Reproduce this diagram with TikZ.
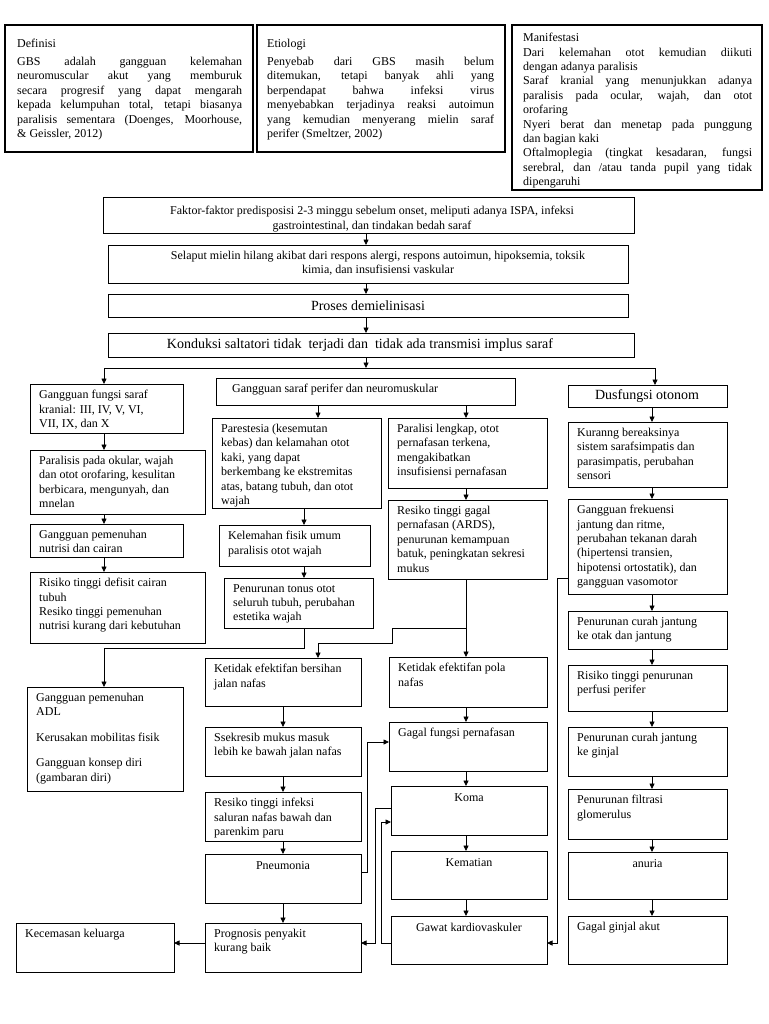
\documentclass[tikz,border=0pt]{standalone}
\usepackage{fontspec}
\setmainfont{Liberation Serif}
\usetikzlibrary{arrows.meta,calc}
\tikzset{
 boxs/.style={draw, line width=0.8pt, anchor=north west, inner sep=0pt, outer sep=0pt},
 frame/.style={draw, line width=2.6pt, anchor=north west, inner sep=0pt, outer sep=0pt},
 txt/.style={anchor=north west, inner sep=0pt, align=left, font=\fontsize{12}{14.4}\selectfont},
 jtxt/.style={anchor=north west, inner sep=0pt, align=justify, font=\fontsize{12}{14.4}\selectfont},
 ctxt/.style={anchor=north, inner sep=0pt, align=center, font=\fontsize{12}{14.4}\selectfont},
 bigtxt/.style={anchor=center, inner sep=0pt, align=center, font=\fontsize{14}{16}\selectfont},
 arr/.style={line width=0.8pt, -{Triangle[length=5.5pt,width=5pt]}},
 ln/.style={line width=0.8pt},
}
\newcommand{\bx}[5]{%
 \pgfmathsetmacro\bw{#4-#2}\pgfmathsetmacro\bh{#5-#3}%
 \node[boxs, minimum width=\bw pt, minimum height=\bh pt] (#1) at (#2,#3) {};}
\newcommand{\tl}[2]{\node[txt] (#1t) at ([xshift=9pt,yshift=-6pt]#1.north west) {#2};}
\newcommand{\tc}[2]{\node[ctxt] (#1t) at ([yshift=-7pt]#1.north) {#2};}
\begin{document}
\begin{tikzpicture}[x=1pt,y=-1pt]
\useasboundingbox (0,0) rectangle (768,1024);
\fill[white] (0,0) rectangle (768,1024);

% top information boxes
\node[frame, minimum width=248pt, minimum height=127pt] (Def) at (5,25) {};
\node[jtxt, text width=225pt] (Deft) at ([xshift=12pt,yshift=-14pt]Def.north west)
 {Definisi\\[3.5pt]GBS adalah gangguan kelemahan\linebreak neuromuscular akut yang memburuk\linebreak secara progresif yang dapat mengarah\linebreak kepada kelumpuhan total, tetapi biasanya\linebreak paralisis sementara (Doenges, Moorhouse,\linebreak \& Geissler, 2012)};
\node[frame, minimum width=248pt, minimum height=127pt] (Eti) at (257,25) {};
\node[jtxt, text width=227pt] (Etit) at ([xshift=10pt,yshift=-14pt]Eti.north west)
 {Etiologi\\[3.5pt]Penyebab dari GBS masih belum\linebreak ditemukan, tetapi banyak ahli yang\linebreak berpendapat bahwa infeksi virus\linebreak menyebabkan terjadinya reaksi autoimun\linebreak yang kemudian menyerang mielin saraf\linebreak perifer (Smeltzer, 2002)};
\node[frame, minimum width=250pt, minimum height=165pt] (Man) at (512,25) {};
\node[jtxt, text width=229pt] (Mant) at ([xshift=11pt,yshift=-8pt]Man.north west)
 {Manifestasi\\Dari kelemahan otot kemudian diikuti\linebreak dengan adanya paralisis\\Saraf kranial yang menunjukkan adanya\linebreak paralisis pada ocular, wajah, dan otot\linebreak orofaring\\Nyeri berat dan menetap pada punggung\linebreak dan bagian kaki\\Oftalmoplegia (tingkat kesadaran, fungsi\linebreak serebral, dan /atau tanda pupil yang tidak\linebreak dipengaruhi};

% main flow
\bx{F1}{103}{197}{634}{233}
\node[ctxt, font=\fontsize{12}{15}\selectfont] (F1t) at (372,205.5) {Faktor-faktor predisposisi 2-3 minggu sebelum onset, meliputi adanya ISPA, infeksi\\gastrointestinal, dan tindakan bedah saraf};
\bx{F2}{108}{245}{628}{283}
\node[ctxt] (F2t) at (378,251) {Selaput mielin hilang akibat dari respons alergi, respons autoimun, hipoksemia, toksik\\kimia, dan insufisiensi vaskular};
\bx{F3}{108}{294}{628}{317}
\node[bigtxt] (F3t) at (368,306) {Proses demielinisasi};
\bx{F4}{108}{333}{634}{357}
\node[bigtxt] (F4t) at (360,345) {Konduksi saltatori tidak\ \ terjadi dan\ \ tidak ada transmisi implus saraf};

% left column
\bx{L1}{30}{384}{183}{433}
\tl{L1}{Gangguan fungsi saraf\\kranial: III, IV, V, VI,\\VII, IX, dan X}
\bx{L2}{30}{450}{205}{514}
\tl{L2}{Paralisis pada okular, wajah\\dan otot orofaring, kesulitan\\berbicara, mengunyah, dan\\mnelan}
\bx{L3}{30}{524}{183}{557}
\tl{L3}{Gangguan pemenuhan\\nutrisi dan cairan}
\bx{L4}{30}{572}{205}{643}
\tl{L4}{Risiko tinggi defisit cairan\\tubuh\\Resiko tinggi pemenuhan\\nutrisi kurang dari kebutuhan}
\bx{L5}{27}{687}{183}{791}
\tl{L5}{Gangguan pemenuhan\\ADL\\[11pt]Kerusakan mobilitas fisik\\[11pt]Gangguan konsep diri\\(gambaran diri)}
\bx{Kec}{16}{923}{174}{972}
\tl{Kec}{Kecemasan keluarga}

% middle upper
\bx{M1}{216}{378}{515}{405}
\node[txt] (M1t) at ([xshift=16pt,yshift=-5.5pt]M1.north west) {Gangguan saraf perifer dan neuromuskular};
\bx{P1}{212}{418}{381}{508}
\tl{P1}{Parestesia (kesemutan\\kebas) dan kelamahan otot\\kaki, yang dapat\\berkembang ke ekstremitas\\atas, batang tubuh, dan otot\\wajah}
\bx{P2}{219}{525}{370}{566}
\tl{P2}{Kelemahan fisik umum\\paralisis otot wajah}
\bx{P3}{224}{578}{373}{628}
\tl{P3}{Penurunan tonus otot\\seluruh tubuh, perubahan\\estetika wajah}
\bx{R1}{388}{418}{547}{488}
\tl{R1}{Paralisi lengkap, otot\\pernafasan terkena,\\mengakibatkan\\insufisiensi pernafasan}
\bx{R2}{388}{500}{547}{579}
\tl{R2}{Resiko tinggi gagal\\pernafasan (ARDS),\\penurunan kemampuan\\batuk, peningkatan sekresi\\mukus}

% K column
\bx{K1}{205}{658}{361}{706}
\tl{K1}{Ketidak efektifan bersihan\\jalan nafas}
\bx{K2}{205}{727}{361}{776}
\tl{K2}{Ssekresib mukus masuk\\lebih ke bawah jalan nafas}
\bx{K3}{205}{792}{361}{841}
\tl{K3}{Resiko tinggi infeksi\\saluran nafas bawah dan\\parenkim paru}
\bx{K4}{205}{854}{361}{903}
\tc{K4}{Pneumonia}
\bx{K5}{205}{923}{361}{972}
\tl{K5}{Prognosis penyakit\\kurang baik}

% G column
\bx{G1}{389}{657}{547}{707}
\tl{G1}{Ketidak efektifan pola\\nafas}
\bx{G2}{389}{722}{547}{771}
\tl{G2}{Gagal fungsi pernafasan}
\bx{G3}{391}{786}{547}{835}
\tc{G3}{Koma}
\bx{G4}{391}{851}{547}{899}
\tc{G4}{Kematian}
\bx{G5}{391}{916}{547}{964}
\tc{G5}{Gawat kardiovaskuler}

% D column
\bx{D0}{568}{385}{727}{407}
\node[bigtxt] (D0t) at (647,396.5) {Dusfungsi otonom};
\bx{D1}{568}{422}{727}{487}
\tl{D1}{Kuranng bereaksinya\\sistem sarafsimpatis dan\\parasimpatis, perubahan\\sensori}
\bx{D2}{568}{499}{727}{594}
\tl{D2}{Gangguan frekuensi\\jantung dan ritme,\\perubahan tekanan darah\\(hipertensi transien,\\hipotensi ortostatik), dan\\gangguan vasomotor}
\bx{D3}{568}{611}{727}{649}
\tl{D3}{Penurunan curah jantung\\ke otak dan jantung}
\bx{D4}{568}{665}{727}{711}
\tl{D4}{Risiko tinggi penurunan\\perfusi perifer}
\bx{D5}{568}{727}{727}{776}
\tl{D5}{Penurunan curah jantung\\ke ginjal}
\bx{D6}{568}{789}{727}{839}
\tl{D6}{Penurunan filtrasi\\glomerulus}
\bx{D7}{568}{852}{727}{899}
\tc{D7}{anuria}
\bx{D8}{568}{916}{727}{964}
\tl{D8}{Gagal ginjal akut}

% helper coordinates
\coordinate (xm) at (366,0);
\coordinate (xl) at (104,0);
\coordinate (xp) at (318,0);
\coordinate (xp2) at (304,0);
\coordinate (xr) at (466,0);
\coordinate (xq) at (392,0);
\coordinate (xk) at (283,0);
\coordinate (xd) at (652,0);
\coordinate (xd0) at (655,0);
\coordinate (xa) at (367,0);
\coordinate (xb) at (375,0);
\coordinate (xc) at (381,0);
\coordinate (xe) at (557,0);
\coordinate (br) at (366,368);
\coordinate (h1) at (0,648);
\coordinate (h2) at (0,628);
\coordinate (h3) at (0,643);
\coordinate (ya) at (0,872);
\coordinate (yg) at (0,742);
\coordinate (yb) at (0,943);
\coordinate (yc) at (0,808);
\coordinate (yd) at (0,822);
\coordinate (ye) at (0,578);

% connectors
\draw[arr] (F1.south -| xm) -- (F2.north -| xm);
\draw[arr] (F2.south -| xm) -- (F3.north -| xm);
\draw[arr] (F3.south -| xm) -- (F4.north -| xm);
\draw[arr] (F4.south -| xm) -- (br);
\draw[ln] (xl |- br) -- (xd0 |- br);
\draw[arr] (xl |- br) -- (L1.north -| xl);
\draw[arr] (xd0 |- br) -- (D0.north -| xd0);

\draw[arr] (L1.south -| xl) -- (L2.north -| xl);
\draw[arr] (L2.south -| xl) -- (L3.north -| xl);
\draw[arr] (L3.south -| xl) -- (L4.north -| xl);

\draw[arr] (M1.south -| xp) -- (P1.north -| xp);
\draw[arr] (M1.south -| xr) -- (R1.north -| xr);
\draw[arr] (P1.south -| xp2) -- (P2.north -| xp2);
\draw[arr] (P2.south -| xp2) -- (P3.north -| xp2);
\draw[arr] (P3.south -| xp2) -- (xp2 |- h1) -- (xl |- h1) -- (L5.north -| xl);

\draw[arr] (R1.south -| xr) -- (R2.north -| xr);
\draw[arr] (R2.south -| xr) -- (G1.north -| xr);
\draw[arr] (xr |- h2) -- (xq |- h2) -- (xq |- h3) -- (xp |- h3) -- (K1.north -| xp);

\draw[arr] (K1.south -| xk) -- (K2.north -| xk);
\draw[arr] (K2.south -| xk) -- (K3.north -| xk);
\draw[arr] (K3.south -| xk) -- (K4.north -| xk);
\draw[arr] (K4.south -| xk) -- (K5.north -| xk);
\draw[arr] (K4.east |- ya) -- (xa |- ya) -- (xa |- yg) -- (G2.west |- yg);
\draw[arr] (K5.west |- yb) -- (Kec.east |- yb);
\draw[arr] (G3.west |- yc) -- (xb |- yc) -- (xb |- yb) -- (K5.east |- yb);
\draw[arr] (G5.west |- yb) -- (xc |- yb) -- (xc |- yd) -- (G3.west |- yd);

\draw[arr] (G1.south -| xr) -- (G2.north -| xr);
\draw[arr] (G2.south -| xr) -- (G3.north -| xr);
\draw[arr] (G3.south -| xr) -- (G4.north -| xr);
\draw[arr] (G4.south -| xr) -- (G5.north -| xr);

\draw[arr] (D0.south -| xd) -- (D1.north -| xd);
\draw[arr] (D1.south -| xd) -- (D2.north -| xd);
\draw[arr] (D2.south -| xd) -- (D3.north -| xd);
\draw[arr] (D3.south -| xd) -- (D4.north -| xd);
\draw[arr] (D4.south -| xd) -- (D5.north -| xd);
\draw[arr] (D5.south -| xd) -- (D6.north -| xd);
\draw[arr] (D6.south -| xd) -- (D7.north -| xd);
\draw[arr] (D7.south -| xd) -- (D8.north -| xd);
\draw[arr] (D2.west |- ye) -- (xe |- ye) -- (xe |- yb) -- (G5.east |- yb);
\end{tikzpicture}
\end{document}
